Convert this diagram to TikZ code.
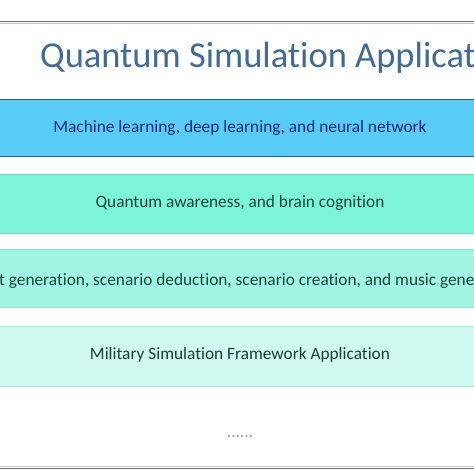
\documentclass[tikz,border=0pt]{standalone}
\usepackage{fontspec}
\setmainfont{Carlito}[Ligatures={CommonOff,ContextualOff}]
\usetikzlibrary{positioning}

\definecolor{titleblue}{RGB}{62,108,152}
\definecolor{barblue}{RGB}{88,204,246}
\definecolor{bluerim}{RGB}{30,100,135}
\definecolor{bluetext}{RGB}{22,44,118}
\definecolor{mintA}{RGB}{124,244,216}
\definecolor{mintB}{RGB}{160,246,226}
\definecolor{mintC}{RGB}{208,249,240}
\definecolor{mintrim}{RGB}{110,214,190}
\definecolor{greentext}{RGB}{26,72,58}
\definecolor{rulegray}{RGB}{100,112,118}

\tikzset{
  bartext/.style={font=\fontsize{17.3}{20}\selectfont, inner sep=0pt},
  rim/.style={line width=1pt}
}

\begin{document}
\begin{tikzpicture}[x=1pt,y=-1pt]
    \useasboundingbox (0,0) rectangle (474,474);
    \clip (0,0) rectangle (474,474);
    \fill[white] (0,0) rectangle (474,474);
    % frame rules
    \draw[rulegray,line width=1.2pt] (0,21.5) -- (474,21.5);
    \draw[rulegray!40,line width=0.8pt] (0,23.2) -- (474,23.2);
    \draw[rulegray!40,line width=0.8pt] (0,466.8) -- (474,466.8);
    \draw[rulegray,line width=1.2pt] (0,468.5) -- (474,468.5);
    % title
    \node[anchor=west, inner sep=0pt, text=titleblue,
          font=\fontsize{36.5}{40}\selectfont] (title) at (40,58)
          {Quantum Simulation Applications};
    % bars
    \fill[barblue] (0,99) rectangle (474,157);
    \draw[bluerim,rim] (0,99) -- (474,99);
    \draw[bluerim,rim] (0,156.5) -- (474,156.5);
    \fill[mintA] (0,174) rectangle (474,233);
    \draw[mintrim,rim] (0,174) -- (474,174);
    \draw[mintrim,rim] (0,233) -- (474,233);
    \fill[mintB] (0,249) rectangle (474,307);
    \draw[mintrim!70,rim] (0,249) -- (474,249);
    \draw[mintrim!70,rim] (0,307) -- (474,307);
    \fill[mintC] (0,326) rectangle (474,386);
    \draw[mintrim!60,rim] (0,326) -- (474,326);
    \draw[mintrim!60,rim] (0,386) -- (474,386);
    % bar labels
    \node[bartext, text=bluetext] (learn) at (240,128)
          {Machine learning, deep learning, and neural network};
    \node[bartext, text=greentext] (aware) at (240,203)
          {Quantum awareness, and brain cognition};
    \node[bartext, text=greentext, anchor=base west] (gen) at (-1,285)
          {\llap{Tex}t generation, scenario deduction, scenario creation, and music generation};
    \node[bartext, text=greentext!90!black] (military) at (240,355)
          {Military Simulation Framework Application};
    \node[bartext, text=gray!80] (more) at (240,437) {......};
\end{tikzpicture}
\end{document}
